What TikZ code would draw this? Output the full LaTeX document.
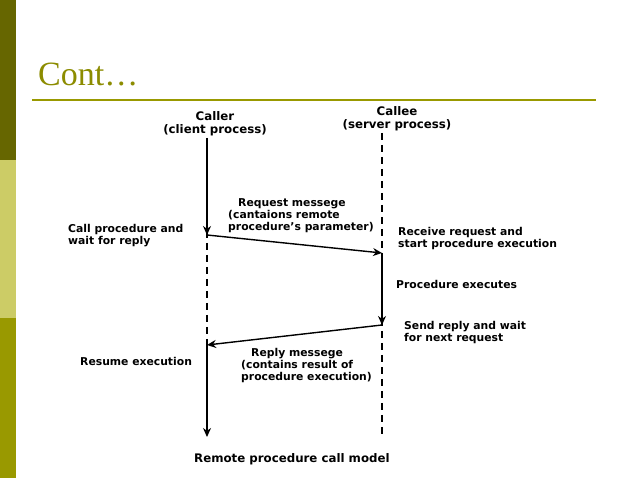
\documentclass[tikz,border=0pt]{standalone}
\usepackage{fontspec}
\setmainfont{DejaVu Sans}
\newfontfamily\titlefont{Liberation Serif}
\usetikzlibrary{arrows.meta}
\definecolor{olA}{HTML}{666600}
\definecolor{olB}{HTML}{CCCC66}
\definecolor{olC}{HTML}{999900}
\definecolor{titlec}{HTML}{8C8C00}
\begin{document}
\begin{tikzpicture}[x=1pt,y=-1pt,
  lbl/.style={font=\bfseries\fontsize{10.8}{12}\selectfont, align=left, inner sep=0pt},
  ctr/.style={font=\bfseries\fontsize{11.8}{13}\selectfont, align=center, inner sep=0pt},
  arr/.style={line width=1.4pt, -{Stealth[length=9pt,width=8pt]}},
  dsh/.style={line width=1.4pt, dash pattern=on 7pt off 5pt}]
\useasboundingbox (0,0) rectangle (638,478);
\fill[white] (0,0) rectangle (638,478);
\fill[olA] (0,0) rectangle (16,160);
\fill[olB] (0,160) rectangle (16,318);
\fill[olC] (0,318) rectangle (16,478);
\node[anchor=base west, text=titlec, font=\titlefont\fontsize{34}{36}\selectfont, inner sep=0pt] (title) at (38,86) {Cont…};
\draw[olC, line width=1.6pt] (32,100) -- (596,100);
\node[ctr] (caller) at (215,124) {Caller\\(client process)};
\node[ctr] (callee) at (397,119) {Callee\\(server process)};
\coordinate (c1) at (207,138); \coordinate (c2) at (207,235);
\coordinate (c3) at (207,345); \coordinate (c4) at (207,437);
\coordinate (s1) at (382,133); \coordinate (s2) at (382,253);
\coordinate (s3) at (382,325); \coordinate (s4) at (382,437);
\draw[arr] (c1) -- (c2);
\draw[dsh] ([yshift=4pt]c2) -- (c3);
\draw[arr] (c3) -- (c4);
\draw[dsh] (s1) -- (s2);
\draw[arr] (s2) -- (s3);
\draw[dsh] ([yshift=6pt]s3) -- (s4);
\draw[arr] (c2) -- (s2);
\draw[arr] (s3) -- (c3);
\node[lbl, anchor=west] (callp) at (68,236) {Call procedure and\\wait for reply};
\node[lbl, anchor=west] (reqm) at (228,216) {\hspace*{10pt}Request messege\\(cantaions remote\\procedure's parameter)};
\node[lbl, anchor=west] (recv) at (398,239) {Receive request and\\start procedure execution};
\node[lbl, anchor=west] (pexe) at (396,284) {Procedure executes};
\node[lbl, anchor=west] (send) at (404,333) {Send reply and wait\\for next request};
\node[lbl, anchor=west] (resume) at (80,361) {Resume execution};
\node[lbl, anchor=west] (repm) at (241,366) {\hspace*{10pt}Reply messege\\(contains result of\\procedure execution)};
\node[ctr, anchor=west] (cap) at (194,459) {Remote procedure call model};
\end{tikzpicture}
\end{document}
